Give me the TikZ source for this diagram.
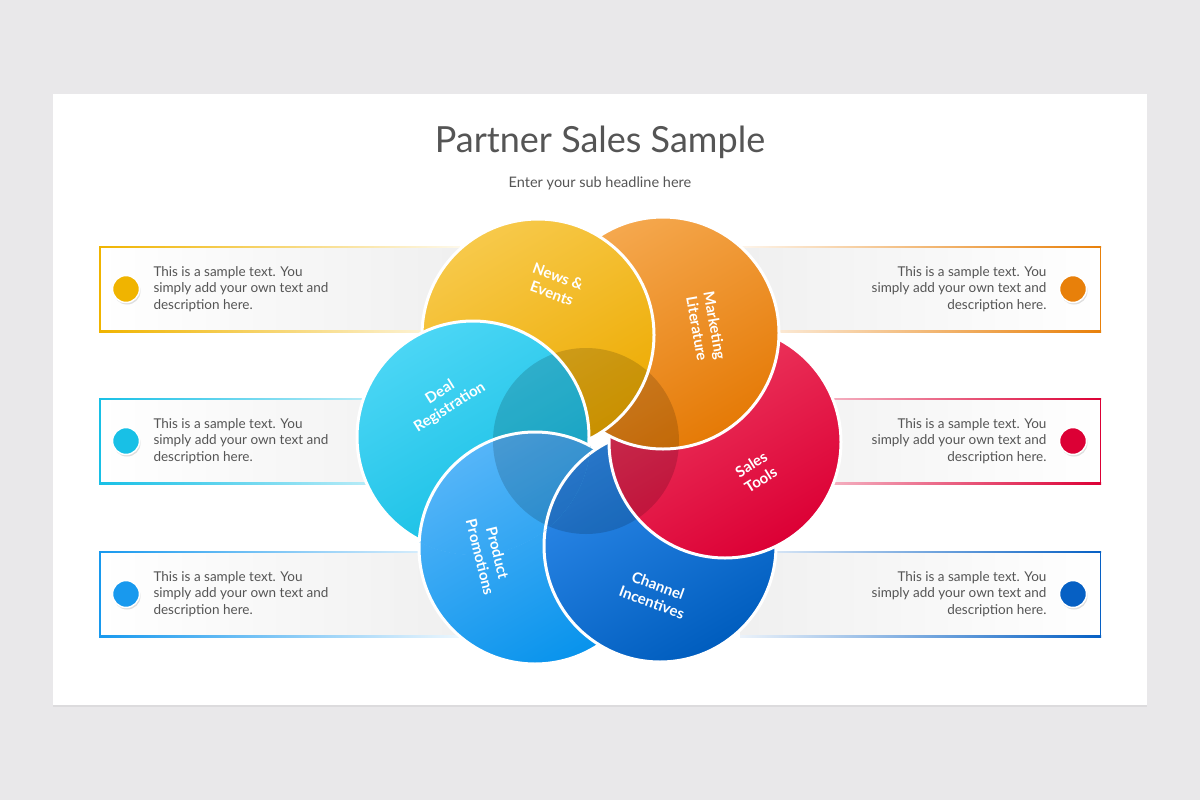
\documentclass[tikz,border=0pt]{standalone}
\usepackage{fontspec}
\setmainfont{Lato}
\usetikzlibrary{shadows,calc}
\definecolor{bgc}{HTML}{E9E8EA}
\definecolor{txt}{HTML}{555555}
\definecolor{cy1}{HTML}{F7C94A}\definecolor{cy2}{HTML}{EDAA00}
\definecolor{co1}{HTML}{F5A84E}\definecolor{co2}{HTML}{E57A06}
\definecolor{cr1}{HTML}{EE3E62}\definecolor{cr2}{HTML}{DC0035}
\definecolor{cc1}{HTML}{4BD6F5}\definecolor{cc2}{HTML}{12BDE3}
\definecolor{cp1}{HTML}{55B5F8}\definecolor{cp2}{HTML}{0893EC}
\definecolor{cb1}{HTML}{2F8BEB}\definecolor{cb2}{HTML}{005DBE}
\definecolor{dy}{HTML}{F0B400}\definecolor{do}{HTML}{E8800A}\definecolor{dr}{HTML}{DC0035}
\definecolor{dc}{HTML}{18C0E6}\definecolor{dp}{HTML}{1899EE}\definecolor{db}{HTML}{0660C4}
\tikzset{
 petal/.style 2 args={circle,minimum size=232pt,inner sep=0pt,draw=white,line width=3pt,shading=axis,top color=#1,bottom color=#2,shading angle=30},
 lbl/.style={text=white,font=\bfseries\fontsize{15}{18}\selectfont,align=center},
 desc/.style={text=txt,font=\fontsize{13.5}{16.5}\selectfont},
 dot/.style={circle,minimum size=27pt,inner sep=0pt,fill=#1,draw=white,line width=1.5pt,drop shadow={opacity=0.25,shadow xshift=1pt,shadow yshift=-2pt}},
 darkp/.style={black,opacity=0.15},
}
\newcommand\darkin[1]{\begin{scope}\clip (#1) circle (114.5);\fill[darkp] (586,441) circle (93);\end{scope}}
\newcommand\lbox[3]{% y, color, name
 \shade[left color=white,right color=black!6] (99,#1-42) rectangle (460,#1+43);
 \shade[left color=#2,right color=#2!8] (99,#1-43) rectangle (460,#1-41.5);
 \shade[left color=#2,right color=#2!8] (99,#1+41.5) rectangle (460,#1+43);
 \fill[#2] (99,#1-43) rectangle (100.5,#1+43);
 \node[dot=#2] (#3d) at (126,#1) {};
 \node[desc,anchor=west,align=left] (#3t) at (150,#1) {This is a sample text. You\\simply add your own text and\\description here.};
}
\newcommand\rbox[3]{%
 \shade[right color=white,left color=black!6] (740,#1-42) rectangle (1101,#1+43);
 \shade[right color=#2,left color=#2!8] (740,#1-43) rectangle (1101,#1-41.5);
 \shade[right color=#2,left color=#2!8] (740,#1+41.5) rectangle (1101,#1+43);
 \fill[#2] (1099.5,#1-43) rectangle (1101,#1+43);
 \node[dot=#2] (#3d) at (1073,#1) {};
 \node[desc,anchor=east,align=right] (#3t) at (1050,#1) {This is a sample text. You\\simply add your own text and\\description here.};
}
\begin{document}
\begin{tikzpicture}[x=1pt,y=-1pt]
\fill[bgc] (0,0) rectangle (1200,800);
\useasboundingbox (0,0) rectangle (1200,800);
\node[fill=white,minimum width=1094pt,minimum height=611pt,inner sep=0pt,drop shadow={opacity=0.12,shadow xshift=0pt,shadow yshift=-2pt}] (card) at (600,399.5) {};
\node[text=txt,font=\fontsize{36}{40}\selectfont] (title) at (600,142) {Partner Sales Sample};
\node[text=txt,font=\fontsize{14.5}{16}\selectfont] (sub) at (600,183) {Enter your sub headline here};
\lbox{289}{dy}{l1}\lbox{441}{dc}{l2}\lbox{594}{dp}{l3}
\rbox{289}{do}{r1}\rbox{441}{dr}{r2}\rbox{594}{db}{r3}
\coordinate (cY) at (538,335);
\coordinate (cO) at (663,333);
\coordinate (cR) at (725,442);
\coordinate (cB) at (660,546);
\coordinate (cP) at (535,548);
\coordinate (cD) at (473,437);
\node[petal={cp1}{cp2}] (P) at (cP) {};\darkin{cP}
\node[petal={cb1}{cb2}] (B) at (cB) {};\darkin{cB}
\node[petal={cr1}{cr2}] (R) at (cR) {};\darkin{cR}
\node[petal={co1}{co2}] (O) at (cO) {};\darkin{cO}
\node[petal={cy1}{cy2}] (Y) at (cY) {};\darkin{cY}
\node[petal={cc1}{cc2}] (D) at (cD) {};\darkin{cD}
\begin{scope}
 \clip (cD) circle (118);
 \node[petal={cp1}{cp2}] (P2) at (cP) {};\darkin{cP}
 \clip (cP) circle (118);
 \node[petal={cb1}{cb2}] (B2) at (cB) {};\darkin{cB}
\end{scope}
\node[lbl,rotate=-20] (tY) at (555,285) {News \&\\Events};
\node[lbl,rotate=-80] (tO) at (706,327) {Marketing\\Literature};
\node[lbl,rotate=32] (tR) at (756,472) {Sales\\Tools};
\node[lbl,rotate=-20] (tB) at (655,594) {Channel\\Incentives};
\node[lbl,rotate=-76] (tP) at (489,555) {Product\\Promotions};
\node[lbl,rotate=32] (tD) at (445,400) {Deal\\Registration};
\end{tikzpicture}
\end{document}
